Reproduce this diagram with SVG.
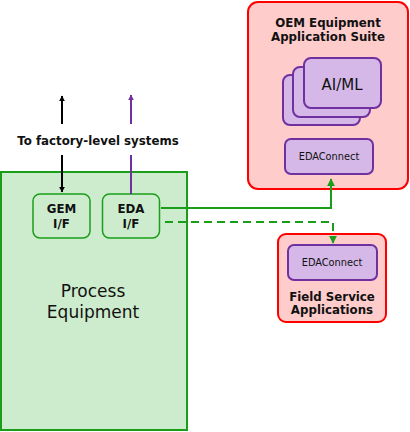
<svg xmlns="http://www.w3.org/2000/svg" width="410" height="432" viewBox="0 0 410 432">
<defs>
<style>
text{font-family:"DejaVu Sans",Verdana,sans-serif;text-anchor:middle;fill:#111}
.b{font-weight:bold;font-size:11.8px}
.red{fill:#ffcccc;stroke:#ff0000;stroke-width:2}
.pur{fill:#d5b8e8;stroke:#7030a0;stroke-width:2}
.grn{fill:#cdeccd;stroke:#1a9e1a;stroke-width:1.5}
</style>
<marker id="ak" viewBox="0 0 10 10" refX="9" refY="5" markerWidth="6" markerHeight="8" orient="auto" markerUnits="userSpaceOnUse"><path d="M0,0L10,5L0,10z" fill="#000"/></marker>
<marker id="ap" viewBox="0 0 10 10" refX="9" refY="5" markerWidth="6" markerHeight="8" orient="auto" markerUnits="userSpaceOnUse"><path d="M0,0L10,5L0,10z" fill="#7030a0"/></marker>
<marker id="ag" viewBox="0 0 10 10" refX="9" refY="5" markerWidth="8" markerHeight="9" orient="auto" markerUnits="userSpaceOnUse"><path d="M0,0L10,5L0,10z" fill="#1a9e1a"/></marker>
</defs>
<g id="process-equipment">
<rect x="1" y="172" width="186" height="258" fill="#cdeccd" stroke="#1a9e1a" stroke-width="2"/>
<text x="93" y="297" font-size="17">Process</text>
<text x="93" y="318" font-size="17">Equipment</text>
</g>
<g id="gem-if">
<rect class="grn" x="33" y="194" width="57" height="44" rx="7"/>
<text class="b" x="61.5" y="213">GEM</text>
<text class="b" x="61.5" y="228">I/F</text>
</g>
<g id="eda-if">
<rect class="grn" x="102.5" y="194" width="57" height="44" rx="7"/>
<text class="b" x="131" y="213">EDA</text>
<text class="b" x="131" y="228">I/F</text>
</g>
<g id="factory-label">
<text class="b" x="98" y="145">To factory-level systems</text>
</g>
<g id="oem-suite">
<rect class="red" x="248" y="2" width="160" height="187" rx="10"/>
<text class="b" x="328" y="27">OEM Equipment</text>
<text class="b" x="328" y="41">Application Suite</text>
<rect class="pur" x="283" y="75" width="77" height="50" rx="7"/>
<rect class="pur" x="293" y="67" width="77" height="50" rx="7"/>
<rect class="pur" x="304" y="58" width="77" height="50" rx="7"/>
<text x="342" y="90" font-size="15">AI/ML</text>
<rect class="pur" x="285" y="139" width="88" height="35" rx="6"/>
<text x="329" y="160" font-size="9.8">EDAConnect</text>
</g>
<g id="field-service">
<rect class="red" x="278" y="234" width="108" height="88" rx="8"/>
<rect class="pur" x="288" y="245" width="89" height="35" rx="6"/>
<text x="332" y="266" font-size="9.8">EDAConnect</text>
<text class="b" x="332" y="301">Field Service</text>
<text class="b" x="332" y="314">Applications</text>
</g>
<g id="connectors" fill="none">
<line x1="62" y1="124" x2="62" y2="96" stroke="#000" stroke-width="2" marker-end="url(#ak)"/>
<line x1="62" y1="155" x2="62" y2="192" stroke="#000" stroke-width="2" marker-end="url(#ak)"/>
<line x1="131" y1="124" x2="131" y2="95" stroke="#7030a0" stroke-width="2" marker-end="url(#ap)"/>
<line x1="131" y1="155" x2="131" y2="194" stroke="#7030a0" stroke-width="2"/>
<polyline points="161,208 331,208 331,179" stroke="#1a9e1a" stroke-width="2" marker-end="url(#ag)"/>
<polyline points="165,222 333,222 333,243" stroke="#1a9e1a" stroke-width="2" stroke-dasharray="8,5" marker-end="url(#ag)"/>
</g>
</svg>
